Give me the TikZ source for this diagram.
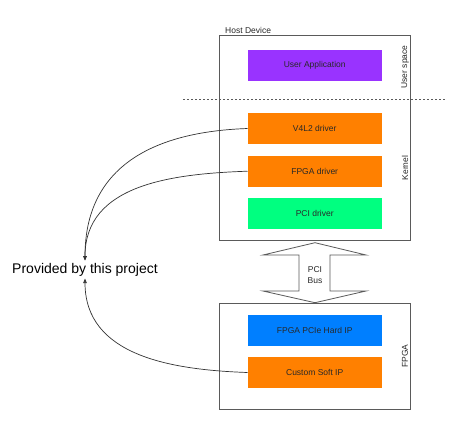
\documentclass[tikz,border=0pt]{standalone}
\usepackage{fontspec}
\setmainfont{Liberation Sans}
\usetikzlibrary{arrows.meta}
\definecolor{cpurple}{RGB}{153,51,255}
\definecolor{corange}{RGB}{255,128,0}
\definecolor{cgreen}{RGB}{0,255,128}
\definecolor{cblue}{RGB}{0,127,255}
\definecolor{cedge}{RGB}{90,90,90}
\definecolor{ctext}{RGB}{40,40,40}
\begin{document}
\begin{tikzpicture}[x=1pt,y=-1pt,
  block/.style={rectangle, minimum width=134pt, minimum height=31pt, inner sep=0pt, text=ctext, font=\fontsize{8.5}{10}\selectfont},
  container/.style={draw=cedge, line width=0.8pt},
  sidelabel/.style={rotate=90, font=\fontsize{8.5}{10}\selectfont, text=ctext, inner sep=0pt},
  link/.style={draw=black!80, line width=0.7pt, -{Triangle[length=4.5pt,width=3.5pt]}}]
\useasboundingbox (0,0) rectangle (474,431);
\fill[white] (0,0) rectangle (474,431);
% containers
\draw[container] (219,35.7) rectangle (410,240);
\draw[container] (219,303) rectangle (410,409);
\coordinate (hostS) at (314.5,240);
\coordinate (fpgaN) at (314.5,303);
\node[anchor=south west, inner sep=0pt, font=\fontsize{8.5}{10}\selectfont, text=ctext] (hostlbl) at (225,34) {Host Device};
% dashed divider
\draw[cedge, line width=0.8pt, dash pattern=on 2pt off 2pt] (183,99) -- (446,99);
% side labels
\node[sidelabel] (us) at (405,67) {User space};
\node[sidelabel] (kern) at (405,168) {Kernel};
\node[sidelabel] (fpgalbl) at (405,356) {FPGA};
% blocks
\node[block, fill=cpurple] (ua) at (314.7,65.5) {User Application};
\node[block, fill=corange] (v4l2) at (314.7,128.5) {V4L2 driver};
\node[block, fill=corange] (fdrv) at (314.7,171.2) {FPGA driver};
\node[block, fill=cgreen] (pci) at (314.7,213.5) {PCI driver};
\node[block, fill=cblue] (hard) at (314.7,330) {FPGA PCIe Hard IP};
\node[block, fill=corange] (soft) at (314.7,372.5) {Custom Soft IP};
% PCI bus double arrow
\draw[cedge, fill=white, line width=0.8pt, line join=miter]
  (315,242.7) -- (366,255) -- (330,255) -- (330,291) -- (366,291) -- (315,302.7)
  -- (263,291) -- (299,291) -- (299,255) -- (263,255) -- cycle;
\node[align=center, font=\fontsize{8.5}{11}\selectfont, text=ctext] (bus) at (315,275.5) {PCI\\Bus};
% provided label
\node[font=\fontsize{14}{16}\selectfont, inner sep=0pt, text height=10pt, text depth=3pt] (prov) at (85,270) {Provided by this project};
\coordinate (provN) at (85,260.5);
\coordinate (provS) at (85,278.5);
% connectors
\draw[link] (v4l2.west) to[out=182,in=90,looseness=1.15] (provN);
\draw[link] (fdrv.west) to[out=182,in=90,looseness=1.05] (provN);
\draw[link] (soft.west) to[out=178,in=-90,looseness=1.05] (provS);
\end{tikzpicture}
\end{document}
